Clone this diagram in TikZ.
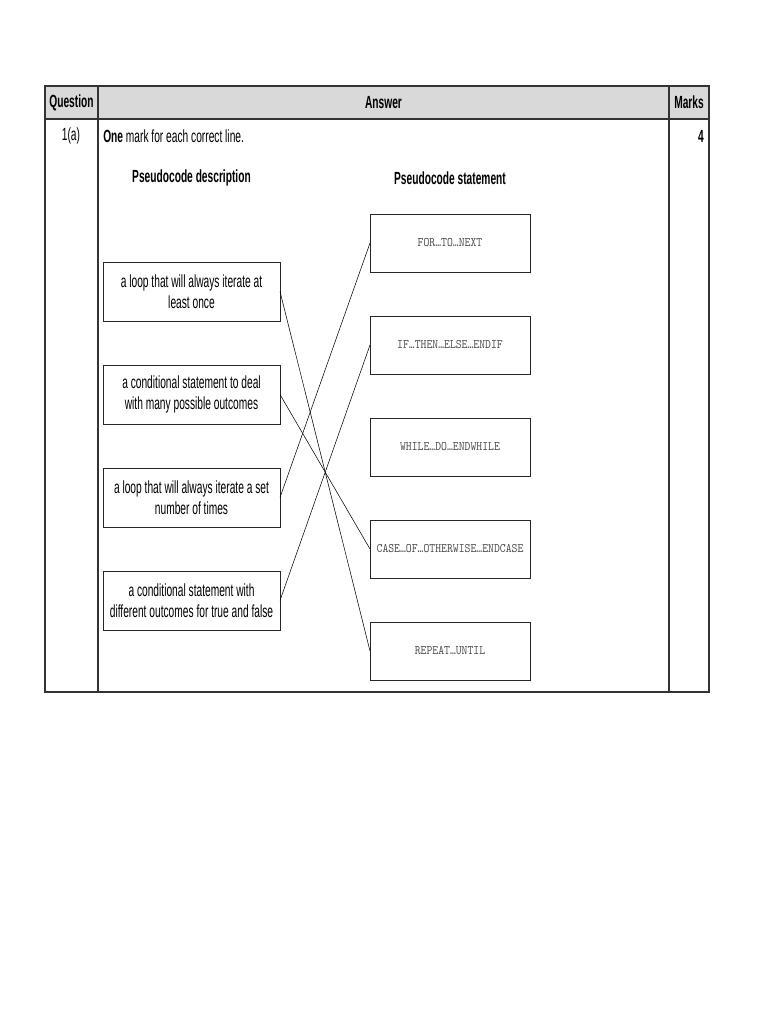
\documentclass[tikz,border=0pt]{standalone}
\usepackage{fontspec}
\setmainfont{Liberation Sans}[FakeStretch=0.58]
\setmonofont{Latin Modern Mono}[FakeStretch=0.86]
\usetikzlibrary{positioning}

\begin{document}
\begin{tikzpicture}[x=0.75pt,y=-0.75pt,
desc/.style = {rectangle, draw=black!85, semithick, minimum width=132.75pt,
               minimum height=44.25pt, align=center, inner sep=2pt, outer sep=0pt,
               font=\fontsize{13.2}{15.6}\selectfont},
stmt/.style = {rectangle, draw=black!85, semithick, minimum width=120pt,
               minimum height=43.5pt, outer sep=0pt, text=black!70,
               font=\ttfamily\fontsize{9.75}{12}\selectfont},
head/.style = {font=\bfseries\fontsize{13.2}{15}\selectfont, inner sep=0pt},
cell/.style = {font=\fontsize{13.2}{15}\selectfont, inner sep=0pt},
rule/.style = {draw=black!80, line width=0.9pt},
line/.style = {draw, thin}]
\useasboundingbox (0,0) rectangle (768,1024);

% table
\fill[black!15] (45,86) rectangle (709,119);
\path[rule] (45,86) rectangle (709,692);
\path[rule] (45,119) -- (709,119);
\path[rule] (98,86) -- (98,692);
\path[rule] (669,86) -- (669,692);

% header row
\node [head] (qhead) at (71.5,102.5) {Question};
\node [head] (ahead) at (383.5,102.5) {Answer};
\node [head] (mhead) at (689,102.5) {Marks};

% answer row
\node [cell] (qnum) at (71,136) {1(a)};
\node [cell, anchor=west] (hint) at (103,136) {\textbf{One} mark for each correct line.};
\node [head, anchor=east] (marks) at (704,136) {4};
\node [head] (dtitle) at (191.5,178) {Pseudocode description};
\node [head] (stitle) at (450,178) {Pseudocode statement};

% descriptions
\node [desc] (d1) at (191.5,291.5) {a loop that will always iterate at\\least once};
\node [desc, below=33pt of d1] (d2) {a conditional statement to deal\\with many possible outcomes};
\node [desc, below=33pt of d2] (d3) {a loop that will always iterate a set\\number of times};
\node [desc, below=33pt of d3] (d4) {a conditional statement with\\different outcomes for true and false};

% statements
\node [stmt] (for) at (450,243) {FOR…TO…NEXT};
\node [stmt, below=33pt of for] (ifelse) {IF…THEN…ELSE…ENDIF};
\node [stmt, below=33pt of ifelse] (while) {WHILE…DO…ENDWHILE};
\node [stmt, below=33pt of while] (case) {CASE…OF…OTHERWISE…ENDCASE};
\node [stmt, below=33pt of case] (repeat) {REPEAT…UNTIL};

% correct lines
\path[line] (d1.east) -- (repeat.west);
\path[line] (d2.east) -- (case.west);
\path[line] (d3.east) -- (for.west);
\path[line] (d4.east) -- (ifelse.west);
\end{tikzpicture}
\end{document}
